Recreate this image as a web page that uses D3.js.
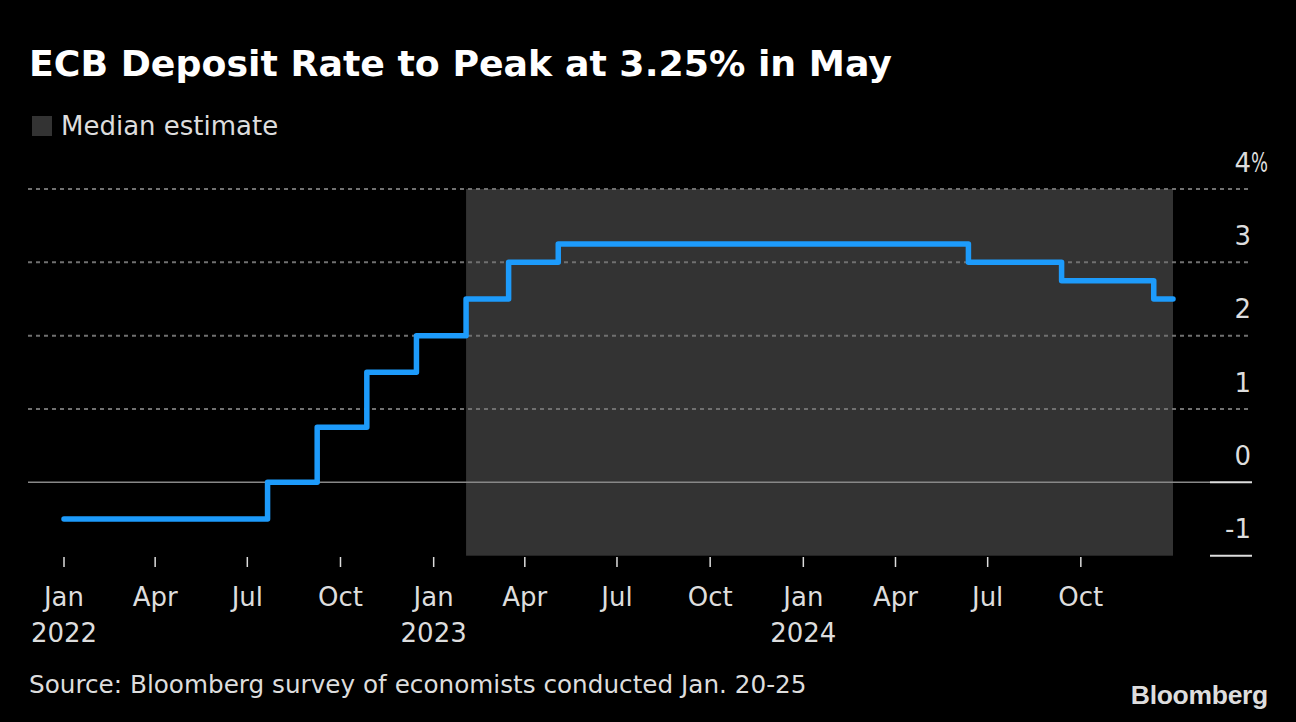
<!DOCTYPE html>
<html>
<head>
<meta charset="utf-8">
<script src="https://cdn.jsdelivr.net/npm/d3@7"></script>
<style>
  html, body { margin: 0; padding: 0; background: #000; }
  svg { display: block; }
</style>
</head>
<body>
<svg id="chart" width="1296" height="722"></svg>
<script>
// ---- Data ----
const rateDates  = ["2022-01-01","2022-07-21","2022-09-08","2022-10-27","2022-12-15","2023-02-02","2023-03-16","2023-05-04","2024-06-12","2024-09-12","2024-12-12","2024-12-31"];
const rateValues = [-0.5, 0, 0.75, 1.5, 2.0, 2.5, 3.0, 3.25, 3.0, 2.75, 2.5, 2.5];
const shadeStart = "2023-02-02";
const shadeEnd   = "2024-12-31";
const yTicks     = [-1, 0, 1, 2, 3, 4];
const xTickDates = ["2022-01-01","2022-04-01","2022-07-01","2022-10-01","2023-01-01","2023-04-01","2023-07-01","2023-10-01","2024-01-01","2024-04-01","2024-07-01","2024-10-01"];
const monthNames = ["Jan","Feb","Mar","Apr","May","Jun","Jul","Aug","Sep","Oct","Nov","Dec"];
const titleText  = "ECB Deposit Rate to Peak at 3.25% in May";
const legendText = "Median estimate";
const sourceText = "Source: Bloomberg survey of economists conducted Jan. 20-25";

const parse = d3.utcParse("%Y-%m-%d");
const series = rateDates.map((d, i) => ({ date: parse(d), value: rateValues[i] }));

const svg = d3.select("#chart");
const sans = "'DejaVu Sans', sans-serif";

const x = d3.scaleUtc()
  .domain([parse("2022-01-01"), parse("2024-12-31")])
  .range([64, 1173]);
const y = d3.scaleLinear().domain([-1, 4]).range([555.7, 189]);

// Title
svg.append("text").attr("x", 29).attr("y", 76)
  .attr("fill", "#fff").attr("font-family", sans)
  .attr("font-weight", "bold").attr("font-size", 36.3).text(titleText);

// Legend
svg.append("rect").attr("x", 32).attr("y", 116).attr("width", 20).attr("height", 20).attr("fill", "#333");
svg.append("text").attr("x", 61).attr("y", 135)
  .attr("fill", "#ddd").attr("font-family", sans).attr("font-size", 26).text(legendText);

// Shaded region
svg.append("rect")
  .attr("x", x(parse(shadeStart))).attr("y", y(4))
  .attr("width", x(parse(shadeEnd)) - x(parse(shadeStart)))
  .attr("height", y(-1) - y(4))
  .attr("fill", "#333");

// Grid lines
const gridVals = yTicks.filter(v => v > 0);
svg.append("g").selectAll("line").data(gridVals).join("line")
  .attr("x1", 28).attr("x2", 1250)
  .attr("y1", d => y(d)).attr("y2", d => y(d))
  .attr("stroke", "#707070").attr("stroke-width", 2).attr("stroke-dasharray", "4,4");

// Zero line
svg.append("line").attr("x1", 28).attr("x2", 1210).attr("y1", y(0)).attr("y2", y(0))
  .attr("stroke", "#888").attr("stroke-width", 1.5);
// Short white marks at right for 0 and -1
svg.append("g").selectAll("line").data([0, -1]).join("line")
  .attr("x1", 1210).attr("x2", 1252)
  .attr("y1", d => y(d)).attr("y2", d => y(d))
  .attr("stroke", "#ddd").attr("stroke-width", 2);

// Y labels
const yLab = svg.append("g").attr("font-family", sans).attr("font-size", 26).attr("fill", "#ddd");
yLab.selectAll("text.num").data(yTicks).join("text")
  .attr("class", "num")
  .attr("x", 1251).attr("y", d => y(d) - 17.5)
  .attr("text-anchor", "end")
  .text(d => d3.format("d")(d).replace("\u2212", "-"));
yLab.append("text").attr("x", 1251).attr("y", y(4) - 17.5)
  .attr("textLength", 17).attr("lengthAdjust", "spacingAndGlyphs").text("%");

// X axis ticks
const xt = svg.append("g");
xTickDates.forEach(s => {
  const d = parse(s);
  const px = x(d);
  xt.append("line").attr("x1", px).attr("x2", px).attr("y1", 557).attr("y2", 567)
    .attr("stroke", "#ddd").attr("stroke-width", 1.5);
  xt.append("text").attr("x", px).attr("y", 606).attr("text-anchor", "middle")
    .attr("font-family", sans).attr("font-size", 26).attr("fill", "#ddd")
    .text(monthNames[d.getUTCMonth()]);
  if (d.getUTCMonth() === 0) {
    xt.append("text").attr("x", px).attr("y", 642).attr("text-anchor", "middle")
      .attr("font-family", sans).attr("font-size", 26).attr("fill", "#ddd")
      .text(d.getUTCFullYear());
  }
});

// Line
const line = d3.line().x(d => x(d.date)).y(d => y(d.value)).curve(d3.curveStepAfter);
svg.append("path").datum(series)
  .attr("d", line)
  .attr("fill", "none").attr("stroke", "#1d9bfb").attr("stroke-width", 5.5)
  .attr("stroke-linecap", "round").attr("stroke-linejoin", "round");

// Source
svg.append("text").attr("x", 29).attr("y", 693)
  .attr("fill", "#ddd").attr("font-family", sans).attr("font-size", 24.7).text(sourceText);

// Logo
svg.append("text").attr("x", 1268).attr("y", 704).attr("text-anchor", "end")
  .attr("fill", "#ddd").attr("font-family", "'Liberation Sans', Arial, sans-serif")
  .attr("font-weight", "bold").attr("font-size", 26.5).attr("letter-spacing", -0.3).text("Bloomberg");
</script>
</body>
</html>
